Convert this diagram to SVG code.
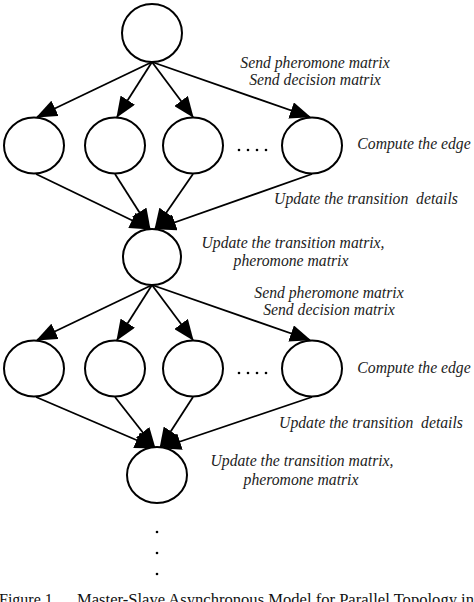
<svg xmlns="http://www.w3.org/2000/svg" width="474" height="602" viewBox="0 0 474 602">
<style>
.n{fill:#fff;stroke:#000;stroke-width:2}
.c line{stroke:#000;stroke-width:1.8}
.l{font-family:"Liberation Serif","Times New Roman",serif;font-style:italic;font-size:15.7px;fill:#222;text-anchor:middle}
.cap{font-family:"Liberation Serif","Times New Roman",serif;font-size:16px;fill:#111}
</style>
<defs>
<marker id="ah" markerWidth="21" markerHeight="17" refX="20" refY="8.5" orient="auto" markerUnits="userSpaceOnUse"><path d="M0,0 L21,8.5 L0,17 Z" fill="#000"/></marker>
</defs>
<rect width="474" height="602" fill="#fff"/>
<g class="c" id="connectors">
<line x1="152" y1="62" x2="37" y2="117" marker-end="url(#ah)"/>
<line x1="152" y1="62" x2="117" y2="117" marker-end="url(#ah)"/>
<line x1="152" y1="62" x2="193" y2="117" marker-end="url(#ah)"/>
<line x1="152" y1="62" x2="310" y2="117" marker-end="url(#ah)"/>
<line x1="36" y1="174" x2="150" y2="229" marker-end="url(#ah)"/>
<line x1="115" y1="174" x2="150" y2="229" marker-end="url(#ah)"/>
<line x1="193" y1="174" x2="155" y2="229" marker-end="url(#ah)"/>
<line x1="312" y1="174" x2="156" y2="229" marker-end="url(#ah)"/>
<line x1="152" y1="285" x2="37" y2="340" marker-end="url(#ah)"/>
<line x1="152" y1="285" x2="117" y2="340" marker-end="url(#ah)"/>
<line x1="152" y1="285" x2="193" y2="340" marker-end="url(#ah)"/>
<line x1="152" y1="285" x2="310" y2="340" marker-end="url(#ah)"/>
<line x1="36" y1="397" x2="155" y2="448" marker-end="url(#ah)"/>
<line x1="115" y1="397" x2="155" y2="448" marker-end="url(#ah)"/>
<line x1="193" y1="397" x2="160" y2="448" marker-end="url(#ah)"/>
<line x1="312" y1="397" x2="161" y2="448" marker-end="url(#ah)"/>
</g>
<g id="master1"><ellipse class="n" cx="152" cy="33" rx="30" ry="29"/></g>
<g id="slave1a"><ellipse class="n" cx="34" cy="145.5" rx="30" ry="28"/></g>
<g id="slave1b"><ellipse class="n" cx="115" cy="145.5" rx="30" ry="28"/></g>
<g id="slave1c"><ellipse class="n" cx="193" cy="145.5" rx="30" ry="28"/></g>
<g id="slave1d"><ellipse class="n" cx="312" cy="145.5" rx="30" ry="28"/></g>
<g id="master2"><ellipse class="n" cx="152" cy="257" rx="29" ry="28"/></g>
<g id="slave2a"><ellipse class="n" cx="34" cy="368.5" rx="30" ry="28"/></g>
<g id="slave2b"><ellipse class="n" cx="115" cy="368.5" rx="30" ry="28"/></g>
<g id="slave2c"><ellipse class="n" cx="193" cy="368.5" rx="30" ry="28"/></g>
<g id="slave2d"><ellipse class="n" cx="312" cy="368.5" rx="30" ry="28"/></g>
<g id="master3"><ellipse class="n" cx="157" cy="475" rx="30" ry="28"/></g>
<g id="labels">
<text class="l" x="315" y="68">Send pheromone matrix</text>
<text class="l" x="315" y="85">Send decision matrix</text>
<text class="l" x="414" y="149">Compute the edge</text>
<text class="l" x="366" y="204" xml:space="preserve">Update the transition  details</text>
<text class="l" x="293" y="248">Update the transition matrix,</text>
<text class="l" x="291" y="266">pheromone matrix</text>
<text class="l" x="329" y="298">Send pheromone matrix</text>
<text class="l" x="329" y="315">Send decision matrix</text>
<text class="l" x="414" y="373">Compute the edge</text>
<text class="l" x="371" y="428" xml:space="preserve">Update the transition  details</text>
<text class="l" x="302" y="466">Update the transition matrix,</text>
<text class="l" x="301" y="485">pheromone matrix</text>
</g>
<g id="ellipsis">
<circle cx="239" cy="150" r="1.3"/><circle cx="248" cy="150" r="1.3"/><circle cx="257" cy="150" r="1.3"/><circle cx="266" cy="150" r="1.3"/>
<circle cx="239" cy="373" r="1.3"/><circle cx="248" cy="373" r="1.3"/><circle cx="257" cy="373" r="1.3"/><circle cx="266" cy="373" r="1.3"/>
<circle cx="157" cy="532" r="1.3"/><circle cx="157" cy="553" r="1.3"/><circle cx="157" cy="574" r="1.3"/>
</g>
<text class="cap" x="-1" y="605">Figure 1.</text>
<text class="cap" x="77" y="605" textLength="397" lengthAdjust="spacingAndGlyphs">Master-Slave Asynchronous Model for Parallel Topology in</text>
</svg>
